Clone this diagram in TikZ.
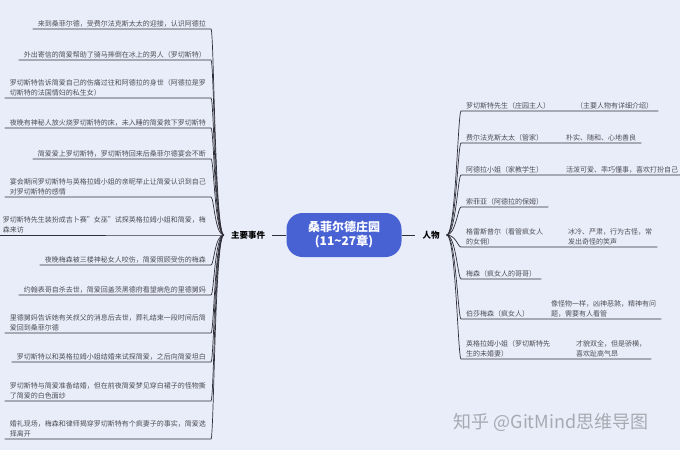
\documentclass[tikz,border=0pt]{standalone}
\usepackage{fontspec}
\setmainfont{Noto Sans CJK SC}
\definecolor{paper}{HTML}{E9EDF9}
\definecolor{rootblue}{HTML}{4862D4}
\definecolor{itemgray}{HTML}{4E4E56}
\definecolor{linegray}{HTML}{30303A}
\definecolor{markgray}{HTML}{A8AAB2}
\tikzset{
  RootStyle/.style = { rectangle, rounded corners = 16pt, fill = rootblue,
                       text = white, minimum width = 115pt, minimum height = 44pt,
                       align = center, font = \fontsize{12}{14}\selectfont\bfseries },
  TopicStyle/.style = { inner xsep = 7pt, inner ysep = 2pt,
                        font = \fontsize{8.5}{10}\selectfont\bfseries },
  ItemStyle/.style = { inner xsep = 5pt, inner ysep = 2pt, align = left,
                       text = itemgray, font = \fontsize{7}{9.5}\selectfont },
  BranchStyle/.style = { draw = linegray, line width = 0.7pt } }

\begin{document}
\begin{tikzpicture}[x=1pt, y=-1pt]
  \fill[paper] (0,0) rectangle (680,450);
  \useasboundingbox (0,0) rectangle (680,450);

  \node[RootStyle] (root) at (344,235) {桑菲尔德庄园\\(11\textasciitilde27章)};
  \node[TopicStyle] (t1) at (248,235) {主要事件};
  \node[TopicStyle] (t2) at (431,235) {人物};
  \draw[BranchStyle] (root.west) -- (t1.east);
  \draw[BranchStyle] (root.east) -- (t2.west);

  % main events
  \node[ItemStyle, anchor=south east] (e1) at (211,29) {来到桑菲尔德，受费尔法克斯太太的迎接，认识阿德拉};
  \node[ItemStyle, anchor=south east] (e2) at (211,60) {外出寄信的简爱帮助了骑马摔倒在冰上的男人（罗切斯特）};
  \node[ItemStyle, anchor=south east] (e3) at (211,98) {罗切斯特告诉简爱自己的伤痛过往和阿德拉的身世（阿德拉是罗\\切斯特的法国情妇的私生女）};
  \node[ItemStyle, anchor=south east] (e4) at (211,128) {夜晚有神秘人放火烧罗切斯特的床，未入睡的简爱救下罗切斯特};
  \node[ItemStyle, anchor=south east] (e5) at (211,159) {简爱爱上罗切斯特，罗切斯特回来后桑菲尔德宴会不断};
  \node[ItemStyle, anchor=south east] (e6) at (211,197) {宴会期间罗切斯特与英格拉姆小姐的亲昵举止让简爱认识到自己\\对罗切斯特的感情};
  \node[ItemStyle, anchor=south east] (e7) at (211,235) {罗切斯特先生装扮成吉卜赛"女巫"试探英格拉姆小姐和简爱，梅\\森来访};
  \node[ItemStyle, anchor=south east] (e8) at (211,265) {夜晚梅森被三楼神秘女人咬伤，简爱照顾受伤的梅森};
  \node[ItemStyle, anchor=south east] (e9) at (211,295) {约翰表哥自杀去世，简爱回盖茨黑德府看望病危的里德舅妈};
  \node[ItemStyle, anchor=south east] (e10) at (211,333) {里德舅妈告诉她有关叔父的消息后去世，葬礼结束一段时间后简\\爱回到桑菲尔德};
  \node[ItemStyle, anchor=south east] (e11) at (211,362) {罗切斯特以和英格拉姆小姐结婚来试探简爱，之后向简爱坦白};
  \node[ItemStyle, anchor=south east] (e12) at (211,401) {罗切斯特与简爱准备结婚，但在前夜简爱梦见穿白裙子的怪物撕\\了简爱的白色面纱};
  \node[ItemStyle, anchor=south east] (e13) at (211,439) {婚礼现场，梅森和律师揭穿罗切斯特有个疯妻子的事实，简爱选\\择离开};

  \draw[BranchStyle] (t1.west) .. controls +(-9,0) and +(3,0) .. (e1.south east) -- (e1.south west);
  \draw[BranchStyle] (t1.west) .. controls +(-9,0) and +(3,0) .. (e2.south east) -- (e2.south west);
  \draw[BranchStyle] (t1.west) .. controls +(-9,0) and +(3,0) .. (e3.south east) -- (e3.south west);
  \draw[BranchStyle] (t1.west) .. controls +(-9,0) and +(3,0) .. (e4.south east) -- (e4.south west);
  \draw[BranchStyle] (t1.west) .. controls +(-9,0) and +(3,0) .. (e5.south east) -- (e5.south west);
  \draw[BranchStyle] (t1.west) .. controls +(-9,0) and +(3,0) .. (e6.south east) -- (e6.south west);
  \draw[BranchStyle] (t1.west) .. controls +(-9,0) and +(3,0) .. (e7.south east) -- (e7.south west);
  \draw[BranchStyle] (t1.west) .. controls +(-9,0) and +(3,0) .. (e8.south east) -- (e8.south west);
  \draw[BranchStyle] (t1.west) .. controls +(-9,0) and +(3,0) .. (e9.south east) -- (e9.south west);
  \draw[BranchStyle] (t1.west) .. controls +(-9,0) and +(3,0) .. (e10.south east) -- (e10.south west);
  \draw[BranchStyle] (t1.west) .. controls +(-9,0) and +(3,0) .. (e11.south east) -- (e11.south west);
  \draw[BranchStyle] (t1.west) .. controls +(-9,0) and +(3,0) .. (e12.south east) -- (e12.south west);
  \draw[BranchStyle] (t1.west) .. controls +(-9,0) and +(3,0) .. (e13.south east) -- (e13.south west);

  % characters
  \node[ItemStyle, anchor=south west] (p1) at (461,111) {罗切斯特先生（庄园主人）};
  \node[ItemStyle, anchor=south west] (d1) at (571,111) {（主要人物有详细介绍）};
  \node[ItemStyle, anchor=south west] (p2) at (461,143) {费尔法克斯太太（管家）};
  \node[ItemStyle, anchor=south west] (d2) at (561,143) {朴实、随和、心地善良};
  \node[ItemStyle, anchor=south west] (p3) at (461,175) {阿德拉小姐（家教学生）};
  \node[ItemStyle, anchor=south west] (d3) at (561,175) {活泼可爱、乖巧懂事，喜欢打扮自己};
  \node[ItemStyle, anchor=south west] (p4) at (461,207) {索菲亚（阿德拉的保姆）};
  \node[ItemStyle, anchor=south west] (p5) at (461,247) {格雷斯普尔（看管疯女人\\的女佣）};
  \node[ItemStyle, anchor=south west] (d5) at (563,247) {冰冷、严肃，行为古怪，常\\发出奇怪的笑声};
  \node[ItemStyle, anchor=south west] (p6) at (461,279) {梅森（疯女人的哥哥）};
  \node[ItemStyle, anchor=south west] (p7) at (461,319) {伯莎梅森（疯女人）};
  \node[ItemStyle, anchor=south west] (d7) at (546,319) {像怪物一样，凶神恶煞，精神有问\\题，需要有人看管};
  \node[ItemStyle, anchor=south west] (p8) at (461,359) {英格拉姆小姐（罗切斯特先\\生的未婚妻）};
  \node[ItemStyle, anchor=south west] (d8) at (571,359) {才貌双全，但是骄横，\\喜欢趾高气昂};

  \draw[BranchStyle] (t2.east) .. controls +(9,0) and +(-3,0) .. (p1.south west) -- (d1.south east);
  \draw[BranchStyle] (t2.east) .. controls +(9,0) and +(-3,0) .. (p2.south west) -- (d2.south east);
  \draw[BranchStyle] (t2.east) .. controls +(9,0) and +(-3,0) .. (p3.south west) -- (d3.south east);
  \draw[BranchStyle] (t2.east) .. controls +(9,0) and +(-3,0) .. (p4.south west) -- (p4.south east);
  \draw[BranchStyle] (t2.east) .. controls +(9,0) and +(-3,0) .. (p5.south west) -- (d5.south east);
  \draw[BranchStyle] (t2.east) .. controls +(9,0) and +(-3,0) .. (p6.south west) -- (p6.south east);
  \draw[BranchStyle] (t2.east) .. controls +(9,0) and +(-3,0) .. (p7.south west) -- (d7.south east);
  \draw[BranchStyle] (t2.east) .. controls +(9,0) and +(-3,0) .. (p8.south west) -- (d8.south east);

  \node[text=markgray, font=\fontsize{18}{20}\selectfont] (mark) at (551,422) {知乎 @GitMind思维导图};
\end{tikzpicture}
\end{document}
